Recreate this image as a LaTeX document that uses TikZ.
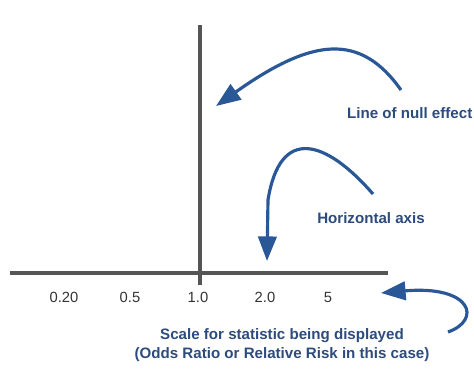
\documentclass[tikz,border=0pt]{standalone}
\usepackage{fontspec}
\setmainfont{Liberation Sans}
\usepackage{tikz}
\usetikzlibrary{arrows.meta,positioning}
\definecolor{axisgray}{RGB}{85,85,85}
\definecolor{arrowblue}{RGB}{42,88,150}
\definecolor{textblue}{RGB}{45,75,125}
\tikzset{%
  axisline/.style={draw=axisgray, line width=2pt},% null line and axis
  ticklabel/.style={font=\fontsize{8.4}{10}\selectfont, text=black!80},% scale values
  callout/.style={font=\fontsize{8.6}{11}\selectfont\bfseries, text=textblue, align=center},% blue labels
  pointer/.style={draw=arrowblue, line width=1.8pt,
    -{Triangle[length=14pt, width=10.5pt]}}% curved blue arrows
}

\begin{document}
\begin{tikzpicture}[x=0.02cm, y=-0.02cm]
\useasboundingbox (0,0) rectangle (474,379);

\coordinate (nulltop) at (200,25);
\coordinate (nullbot) at (200,285);
\coordinate (axl) at (10,273);
\coordinate (axr) at (388,273);

\draw[axisline] (nulltop) -- (nullbot);
\draw[axisline] (axl) -- (axr);

\node[ticklabel] (t020) at (64,297) {0.20};
\node[ticklabel] (t05) at (130,297) {0.5};
\node[ticklabel] (t10) at (198,297) {1.0};
\node[ticklabel] (t20) at (265,297) {2.0};
\node[ticklabel] (t5) at (328,297) {5};

\node[callout, anchor=west] (null) at (341,113) {Line of null effect};
\node[callout] (horiz) at (371,218) {Horizontal axis};
\node[callout] (scale) at (282,345) {Scale for statistic being displayed\\(Odds Ratio or Relative Risk in this case)};

\coordinate (s1) at (401,90);
\coordinate (e1) at (216,106);
\coordinate (s2) at (373,194);
\coordinate (m2) at (268,200);
\coordinate (e2) at (267,261);
\coordinate (s3) at (448,332);
\coordinate (e3) at (381,293);

\draw[pointer] (s1) .. controls (360,32) and (312,38) .. (e1);
\draw[pointer] (s2) .. controls (326,140) and (280,125) .. (m2) -- (e2);
\draw[pointer] (s3) .. controls (482,320) and (472,285) .. (e3);

\end{tikzpicture}
\end{document}
